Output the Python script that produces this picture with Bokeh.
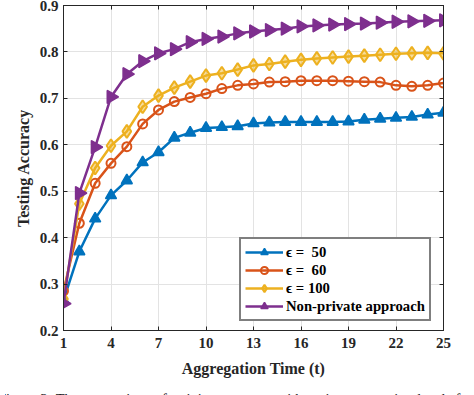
from bokeh.plotting import figure
from bokeh.layouts import column
from bokeh.models import (Range1d, FixedTicker, LinearAxis, Legend, LegendItem,
                          Div, NumeralTickFormatter)
from bokeh.embed import file_html
from bokeh.resources import INLINE

t = list(range(1, 26))
eps50 = [0.265, 0.370, 0.441, 0.491, 0.523, 0.562, 0.584, 0.615, 0.626, 0.636,
         0.638, 0.640, 0.646, 0.648, 0.649, 0.649, 0.649, 0.649, 0.650, 0.654,
         0.656, 0.658, 0.660, 0.665, 0.669]
eps60 = [0.285, 0.431, 0.517, 0.560, 0.596, 0.645, 0.675, 0.693, 0.702, 0.710,
         0.721, 0.728, 0.731, 0.735, 0.736, 0.738, 0.738, 0.738, 0.737, 0.736,
         0.735, 0.728, 0.726, 0.728, 0.733]
eps100 = [0.268, 0.473, 0.550, 0.598, 0.629, 0.682, 0.706, 0.723, 0.736, 0.749,
          0.754, 0.762, 0.771, 0.774, 0.779, 0.783, 0.786, 0.788, 0.790, 0.792,
          0.794, 0.796, 0.797, 0.798, 0.797]
nonpriv = [0.258, 0.496, 0.595, 0.703, 0.752, 0.780, 0.797, 0.806, 0.821, 0.828,
           0.833, 0.840, 0.844, 0.847, 0.850, 0.855, 0.857, 0.859, 0.860, 0.861,
           0.863, 0.865, 0.866, 0.867, 0.868]
x_ticks = [1, 4, 7, 10, 13, 16, 19, 22, 25]
y_ticks = [0.2, 0.3, 0.4, 0.5, 0.6, 0.7, 0.8, 0.9]
labels = ["\u03f5 = \u00a050", "\u03f5 = \u00a060", "\u03f5 = 100", "Non-private approach"]
x_label = "Aggregation Time (t)"
y_label = "Testing Accuracy"
caption = "Figure 3: The comparison of training accuracy with various protection levels for"

BLUE, ORANGE, YELLOW, PURPLE = "#0072BD", "#D95319", "#EDB120", "#7E2F8E"
FONT = "Liberation Serif"

p = figure(width=466, height=387, output_backend="svg", toolbar_location=None,
           x_range=Range1d(1, 25), y_range=Range1d(0.2, 0.9),
           min_border_left=63, min_border_right=23, min_border_top=5,
           min_border_bottom=57)
p.outline_line_color = "#262626"
p.outline_line_width = 1
p.background_fill_color = "white"
p.border_fill_color = "white"

for ax in (p.xaxis[0], p.yaxis[0]):
    ax.major_label_text_font = FONT
    ax.major_label_text_font_style = "bold"
    ax.major_label_text_font_size = "15px"
    ax.major_label_text_color = "#262626"
    ax.axis_label_text_font = FONT
    ax.axis_label_text_font_style = "bold"
    ax.axis_label_text_font_size = "16px"
    ax.axis_label_text_color = "#262626"
    ax.axis_line_color = "#262626"
    ax.major_tick_line_color = "#262626"
    ax.major_tick_in = 4
    ax.major_tick_out = 0
    ax.minor_tick_line_color = None

p.xaxis[0].ticker = FixedTicker(ticks=x_ticks)
p.yaxis[0].ticker = FixedTicker(ticks=y_ticks)
p.yaxis[0].formatter = NumeralTickFormatter(format="0.0")
p.xaxis[0].axis_label = x_label
p.yaxis[0].axis_label = y_label
p.xaxis[0].major_label_standoff = 7
p.yaxis[0].major_label_standoff = 5
p.xaxis[0].axis_label_standoff = 9
p.yaxis[0].axis_label_standoff = 5

for loc, tk in (("right", y_ticks), ("above", x_ticks)):
    a = LinearAxis(ticker=FixedTicker(ticks=tk), major_label_text_font_size="0px",
                   major_label_standoff=0, major_tick_in=4, major_tick_out=0,
                   minor_tick_line_color=None, axis_line_color="#262626",
                   major_tick_line_color="#262626")
    p.add_layout(a, loc)

p.xgrid.ticker = FixedTicker(ticks=x_ticks)
p.ygrid.ticker = FixedTicker(ticks=y_ticks)
p.grid.grid_line_color = "#e3e3e3"
p.grid.grid_line_width = 1

LW = 2.5
r1l = p.line(t, eps50, line_color=BLUE, line_width=LW)
r1m = p.scatter(t, eps50, marker="triangle", size=11, fill_color=BLUE,
                line_color=BLUE, line_width=1.5)
r2l = p.line(t, eps60, line_color=ORANGE, line_width=LW)
r2m = p.scatter(t, eps60, marker="circle", size=9, fill_color=None,
                line_color=ORANGE, line_width=2)
r3l = p.line(t, eps100, line_color=YELLOW, line_width=LW)
r3m = p.scatter(t, eps100, marker="diamond", size=13, fill_color=YELLOW, fill_alpha=0.45,
                line_color=YELLOW, line_width=2)
r4l = p.line(t, nonpriv, line_color=PURPLE, line_width=LW)
r4m = p.scatter(t, nonpriv, marker="triangle", angle=-1.5708, size=13, fill_color=PURPLE,
                line_color=PURPLE, line_width=1.5)

legend = Legend(items=[LegendItem(label=labels[0], renderers=[r1l, r1m]),
                       LegendItem(label=labels[1], renderers=[r2l, r2m]),
                       LegendItem(label=labels[2], renderers=[r3l, r3m]),
                       LegendItem(label=labels[3], renderers=[r4l, r4m])],
                location=(176, 9), margin=0, padding=4, spacing=0,
                glyph_width=38, glyph_height=18, label_height=18, label_standoff=3,
                label_text_font=FONT, label_text_font_style="bold",
                label_text_font_size="14.7px", label_text_color="black",
                border_line_color="black", border_line_width=2.5,
                background_fill_color="white", background_fill_alpha=1)
p.add_layout(legend)

cap = Div(text=caption, width=466, height=20,
          styles={"font-family": FONT, "font-size": "14.5px", "color": "#222222",
                  "white-space": "nowrap", "word-spacing": "0.8px",
                  "text-indent": "-7px", "line-height": "14px", "overflow": "hidden"})

layout = column(p, cap, spacing=0)
open("out.html", "w").write(file_html(layout, INLINE))
